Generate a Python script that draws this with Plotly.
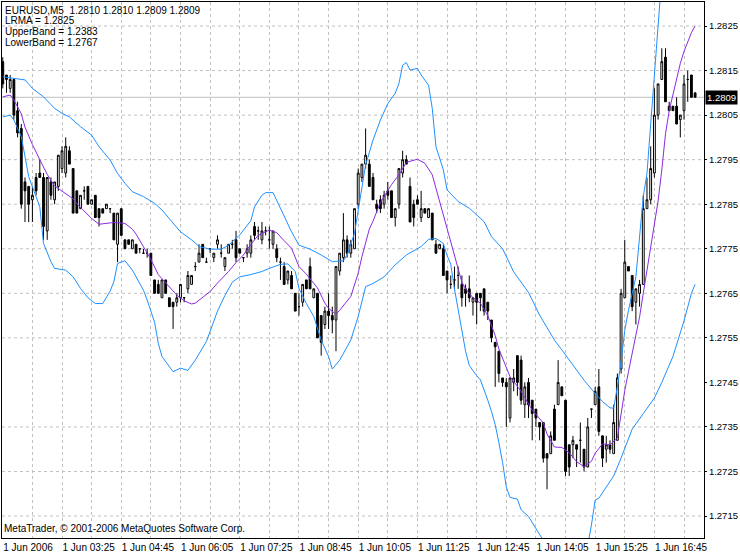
import pandas as pd
import plotly.graph_objects as go

# ---------------- text ----------------
header_lines = [
    "EURUSD,M5  1.2810 1.2810 1.2809 1.2809",
    "LRMA = 1.2825",
    "UpperBand = 1.2383",
    "LowerBand = 1.2767",
]
copyright_text = "MetaTrader, © 2001-2006 MetaQuotes Software Corp."
last_price = 1.2809
last_price_text = "1.2809"

# ---------------- time axis ----------------
start_time = "2006-06-01 02:05"
bar_minutes = 5

# ---------------- candles (M5) ----------------
opens = [
    1.2817, 1.2814, 1.2811, 1.2813, 1.2806, 1.2802, 1.2790, 1.2789, 1.2786, 1.2791,
    1.2792, 1.2791, 1.2779, 1.2790, 1.2786, 1.2789, 1.2793, 1.2792, 1.2797, 1.2793,
    1.2788, 1.2784, 1.2788, 1.2789, 1.2785, 1.2787, 1.2784, 1.2784, 1.2784, 1.2784,
    1.2783, 1.2776, 1.2784, 1.2777, 1.2777, 1.2775, 1.2776, 1.2775, 1.2774, 1.2774,
    1.2774, 1.2768, 1.2767, 1.2764, 1.2768, 1.2764, 1.2763, 1.2763, 1.2764, 1.2764,
    1.2766, 1.2767, 1.2771, 1.2772, 1.2776, 1.2772, 1.2775, 1.2773, 1.2776, 1.2774,
    1.2771, 1.2774, 1.2776, 1.2777, 1.2775, 1.2773, 1.2774, 1.2774, 1.2780, 1.2779,
    1.2777, 1.2779, 1.2777, 1.2776, 1.2775, 1.2772, 1.2771, 1.2768, 1.2769, 1.2765,
    1.2762, 1.2763, 1.2768, 1.2771, 1.2764, 1.2765, 1.2760, 1.2758, 1.2761, 1.2760,
    1.2759, 1.2770, 1.2773, 1.2777, 1.2774, 1.2775, 1.2785, 1.2791, 1.2794, 1.2794,
    1.2791, 1.2785, 1.2786, 1.2785, 1.2788, 1.2788, 1.2782, 1.2785, 1.2792, 1.2795,
    1.2789, 1.2785, 1.2786, 1.2782, 1.2784, 1.2782, 1.2783, 1.2776, 1.2775, 1.2775,
    1.2770, 1.2767, 1.2768, 1.2769, 1.2767, 1.2766, 1.2766, 1.2763, 1.2765, 1.2765,
    1.2766, 1.2763, 1.2759, 1.2754, 1.2752, 1.2746, 1.2745, 1.2737, 1.2745, 1.2751,
    1.2750, 1.2740, 1.2745, 1.2741, 1.2739, 1.2736, 1.2736, 1.2729, 1.2729, 1.2739,
    1.2740, 1.2744, 1.2741, 1.2731, 1.2731, 1.2731, 1.2732, 1.2730, 1.2726, 1.2739,
    1.2740, 1.2744, 1.2733, 1.2730, 1.2731, 1.2729, 1.2732, 1.2748, 1.2764, 1.2771,
    1.2769, 1.2763, 1.2765, 1.2767, 1.2784, 1.2786, 1.2792, 1.2805, 1.2813, 1.2818,
    1.2807, 1.2807, 1.2807, 1.2804, 1.2806, 1.2813, 1.2814, 1.2810,
]
highs = [
    1.2818, 1.2814, 1.2814, 1.2813, 1.2808, 1.2803, 1.2791, 1.2789, 1.2789, 1.2792,
    1.2795, 1.2792, 1.2791, 1.2791, 1.2790, 1.2796, 1.2798, 1.2800, 1.2798, 1.2793,
    1.2788, 1.2787, 1.2789, 1.2789, 1.2786, 1.2787, 1.2784, 1.2784, 1.2785, 1.2784,
    1.2783, 1.2783, 1.2784, 1.2777, 1.2777, 1.2777, 1.2776, 1.2775, 1.2775, 1.2775,
    1.2774, 1.2768, 1.2768, 1.2768, 1.2768, 1.2764, 1.2763, 1.2765, 1.2767, 1.2764,
    1.2770, 1.2769, 1.2772, 1.2776, 1.2776, 1.2773, 1.2775, 1.2774, 1.2778, 1.2776,
    1.2773, 1.2776, 1.2777, 1.2779, 1.2775, 1.2773, 1.2776, 1.2778, 1.2781, 1.2780,
    1.2781, 1.2780, 1.2780, 1.2779, 1.2776, 1.2773, 1.2772, 1.2770, 1.2770, 1.2765,
    1.2765, 1.2767, 1.2768, 1.2773, 1.2766, 1.2765, 1.2760, 1.2762, 1.2765, 1.2762,
    1.2771, 1.2774, 1.2783, 1.2778, 1.2777, 1.2784, 1.2793, 1.2794, 1.2802, 1.2795,
    1.2792, 1.2786, 1.2787, 1.2788, 1.2790, 1.2788, 1.2784, 1.2793, 1.2797, 1.2796,
    1.2791, 1.2786, 1.2787, 1.2788, 1.2784, 1.2784, 1.2783, 1.2777, 1.2776, 1.2776,
    1.2770, 1.2769, 1.2771, 1.2771, 1.2769, 1.2767, 1.2769, 1.2764, 1.2765, 1.2765,
    1.2766, 1.2763, 1.2759, 1.2754, 1.2752, 1.2746, 1.2746, 1.2746, 1.2748, 1.2751,
    1.2751, 1.2745, 1.2746, 1.2741, 1.2739, 1.2736, 1.2736, 1.2729, 1.2734, 1.2740,
    1.2750, 1.2744, 1.2741, 1.2731, 1.2733, 1.2731, 1.2736, 1.2730, 1.2737, 1.2739,
    1.2744, 1.2748, 1.2733, 1.2733, 1.2732, 1.2740, 1.2747, 1.2766, 1.2777, 1.2771,
    1.2769, 1.2766, 1.2768, 1.2787, 1.2791, 1.2798, 1.2811, 1.2812, 1.2820, 1.2820,
    1.2808, 1.2807, 1.2809, 1.2805, 1.2814, 1.2815, 1.2814, 1.2810,
]
lows = [
    1.2811, 1.2810, 1.2810, 1.2804, 1.2800, 1.2784, 1.2781, 1.2781, 1.2781, 1.2787,
    1.2791, 1.2777, 1.2777, 1.2786, 1.2785, 1.2788, 1.2792, 1.2791, 1.2794, 1.2783,
    1.2783, 1.2784, 1.2786, 1.2785, 1.2785, 1.2782, 1.2780, 1.2783, 1.2784, 1.2783,
    1.2777, 1.2772, 1.2778, 1.2775, 1.2776, 1.2775, 1.2774, 1.2774, 1.2774, 1.2773,
    1.2769, 1.2765, 1.2765, 1.2764, 1.2765, 1.2762, 1.2757, 1.2762, 1.2763, 1.2763,
    1.2765, 1.2767, 1.2770, 1.2772, 1.2773, 1.2772, 1.2774, 1.2772, 1.2775, 1.2773,
    1.2770, 1.2774, 1.2775, 1.2772, 1.2774, 1.2772, 1.2773, 1.2773, 1.2777, 1.2777,
    1.2776, 1.2778, 1.2775, 1.2775, 1.2772, 1.2768, 1.2767, 1.2767, 1.2766, 1.2761,
    1.2760, 1.2762, 1.2766, 1.2766, 1.2764, 1.2755, 1.2751, 1.2757, 1.2757, 1.2756,
    1.2752, 1.2769, 1.2772, 1.2773, 1.2773, 1.2775, 1.2784, 1.2790, 1.2793, 1.2789,
    1.2786, 1.2783, 1.2783, 1.2784, 1.2786, 1.2782, 1.2780, 1.2784, 1.2791, 1.2794,
    1.2781, 1.2780, 1.2785, 1.2781, 1.2783, 1.2782, 1.2777, 1.2774, 1.2775, 1.2769,
    1.2765, 1.2766, 1.2766, 1.2766, 1.2762, 1.2762, 1.2763, 1.2760, 1.2758, 1.2761,
    1.2760, 1.2759, 1.2754, 1.2744, 1.2745, 1.2744, 1.2735, 1.2736, 1.2743, 1.2742,
    1.2740, 1.2737, 1.2737, 1.2732, 1.2735, 1.2732, 1.2727, 1.2721, 1.2729, 1.2732,
    1.2740, 1.2742, 1.2724, 1.2724, 1.2728, 1.2726, 1.2727, 1.2725, 1.2726, 1.2737,
    1.2740, 1.2733, 1.2726, 1.2727, 1.2729, 1.2729, 1.2732, 1.2747, 1.2764, 1.2770,
    1.2761, 1.2758, 1.2762, 1.2767, 1.2784, 1.2785, 1.2791, 1.2804, 1.2813, 1.2808,
    1.2806, 1.2806, 1.2803, 1.2800, 1.2804, 1.2808, 1.2809, 1.2809,
]
closes = [
    1.2812, 1.2813, 1.2813, 1.2805, 1.2801, 1.2785, 1.2788, 1.2785, 1.2787, 1.2788,
    1.2791, 1.2780, 1.2791, 1.2787, 1.2790, 1.2796, 1.2797, 1.2798, 1.2794, 1.2783,
    1.2783, 1.2787, 1.2788, 1.2785, 1.2786, 1.2782, 1.2782, 1.2783, 1.2785, 1.2784,
    1.2777, 1.2783, 1.2778, 1.2775, 1.2776, 1.2777, 1.2774, 1.2775, 1.2774, 1.2774,
    1.2769, 1.2765, 1.2765, 1.2768, 1.2765, 1.2762, 1.2762, 1.2764, 1.2767, 1.2764,
    1.2769, 1.2769, 1.2771, 1.2774, 1.2773, 1.2772, 1.2775, 1.2774, 1.2777, 1.2774,
    1.2773, 1.2776, 1.2776, 1.2773, 1.2774, 1.2773, 1.2775, 1.2777, 1.2778, 1.2779,
    1.2779, 1.2779, 1.2777, 1.2779, 1.2773, 1.2772, 1.2767, 1.2770, 1.2766, 1.2761,
    1.2762, 1.2767, 1.2766, 1.2766, 1.2766, 1.2755, 1.2754, 1.2761, 1.2760, 1.2759,
    1.2771, 1.2774, 1.2777, 1.2774, 1.2776, 1.2784, 1.2792, 1.2794, 1.2796, 1.2789,
    1.2786, 1.2784, 1.2784, 1.2787, 1.2787, 1.2782, 1.2784, 1.2793, 1.2795, 1.2794,
    1.2781, 1.2782, 1.2785, 1.2784, 1.2783, 1.2784, 1.2777, 1.2774, 1.2776, 1.2769,
    1.2768, 1.2767, 1.2768, 1.2769, 1.2764, 1.2765, 1.2764, 1.2764, 1.2763, 1.2764,
    1.2761, 1.2761, 1.2755, 1.2753, 1.2747, 1.2745, 1.2744, 1.2746, 1.2746, 1.2745,
    1.2741, 1.2744, 1.2740, 1.2738, 1.2737, 1.2735, 1.2728, 1.2728, 1.2733, 1.2732,
    1.2745, 1.2742, 1.2725, 1.2726, 1.2732, 1.2730, 1.2732, 1.2726, 1.2735, 1.2739,
    1.2743, 1.2734, 1.2728, 1.2731, 1.2730, 1.2736, 1.2746, 1.2765, 1.2772, 1.2770,
    1.2762, 1.2766, 1.2767, 1.2784, 1.2786, 1.2793, 1.2805, 1.2812, 1.2817, 1.2808,
    1.2806, 1.2806, 1.2803, 1.2805, 1.2812, 1.2813, 1.2809, 1.2809,
]

# ---------------- indicator lines (bar index -> value) ----------------
lrma_bars = [0, 2, 3, 5, 6, 8, 10, 12, 14, 16, 17, 19, 20, 22, 24, 26, 28, 30, 33, 35,
             36, 38, 40, 42, 43, 45, 47, 49, 51, 52, 54, 56, 58, 60, 61, 63, 65, 67, 69, 72,
             74, 76, 78, 80, 82, 85, 87, 88, 90, 91, 94, 96, 97, 99, 100, 102, 105, 107, 109, 112,
             114, 116, 118, 120, 122, 124, 125, 127, 129, 131, 133, 134, 137, 140, 143, 146, 147, 149,
             151, 153, 155, 157, 159, 160, 162, 164, 166, 167, 168, 169, 170, 171, 172, 173, 174, 175, 176, 177,
             178, 179, 180, 181, 182, 183, 184, 185, 186, 187]
lrma_vals = [1.28091, 1.28095, 1.28084, 1.28053, 1.28023, 1.27984, 1.27950, 1.27917, 1.27891, 1.27879,
             1.27875, 1.27862, 1.27851, 1.27835, 1.27818, 1.27805, 1.27807, 1.27809, 1.27807, 1.27794,
             1.27783, 1.27755, 1.27726, 1.27692, 1.27683, 1.27663, 1.27646, 1.27633, 1.27626, 1.27628,
             1.27641, 1.27654, 1.27673, 1.27690, 1.27699, 1.27719, 1.27736, 1.27760, 1.27780, 1.27792,
             1.27786, 1.27768, 1.27751, 1.27710, 1.27693, 1.27662, 1.27628, 1.27616, 1.27603, 1.27612,
             1.27643, 1.27695, 1.27732, 1.27794, 1.27812, 1.27854, 1.27894, 1.27916, 1.27944, 1.27951,
             1.27942, 1.27916, 1.27856, 1.27797, 1.27739, 1.27675, 1.27660, 1.27640, 1.27628, 1.27600,
             1.27555, 1.27525, 1.27463, 1.27430, 1.27388, 1.27359, 1.27334, 1.27305,
             1.27304, 1.27292, 1.27272, 1.27261, 1.27273, 1.27291, 1.27312, 1.27310, 1.27325, 1.27382,
             1.27432, 1.27474, 1.27517, 1.27556, 1.27597, 1.27650, 1.27703, 1.27755, 1.27807, 1.27857,
             1.27927, 1.28008, 1.28060, 1.28095, 1.28133, 1.28166, 1.28193, 1.28216, 1.28235, 1.28250]

upper_bars = [0, 3, 6, 8, 11, 14, 16, 18, 21, 24, 26, 29, 31, 33, 35, 38, 41, 43, 46, 48,
              51, 53, 56, 59, 61, 64, 67, 68, 70, 71, 73, 74, 76, 78, 80, 83, 86, 89, 92, 93,
              95, 96, 97, 98, 100, 102, 104, 106, 107, 108, 109, 110, 112, 113, 115, 116, 117, 119, 120, 123,
              126, 130, 132, 135, 138, 141, 142, 145, 149, 151, 154, 157, 160, 162, 164, 165, 166, 167, 168, 169,
              171, 172, 173, 174, 175, 176, 177, 178, 180, 182, 184, 187]
upper_vals = [1.28136, 1.28132, 1.28129, 1.28110, 1.28091, 1.28065, 1.28054, 1.28046, 1.28024, 1.28005,
              1.27979, 1.27949, 1.27919, 1.27897, 1.27878, 1.27867, 1.27852, 1.27837, 1.27807, 1.27788,
              1.27770, 1.27755, 1.27749, 1.27749, 1.27758, 1.27781, 1.27813, 1.27844, 1.27870, 1.27876,
              1.27876, 1.27859, 1.27822, 1.27788, 1.27758, 1.27749, 1.27736, 1.27721, 1.27723, 1.27736,
              1.27785, 1.27835, 1.27885, 1.27938, 1.27994, 1.28039, 1.28076, 1.28099, 1.28121, 1.28162,
              1.28168, 1.28151, 1.28155, 1.28140, 1.28117, 1.28065, 1.27979, 1.27927, 1.27882, 1.27856,
              1.27841, 1.27811, 1.27777, 1.27750, 1.27698, 1.27663, 1.27652, 1.27601, 1.27545, 1.27523,
              1.27489, 1.27455, 1.27425, 1.27407, 1.27393, 1.27392, 1.27440, 1.27496, 1.27567, 1.27612,
              1.27687, 1.27769, 1.27867, 1.27919, 1.28031, 1.28151, 1.28250, 1.28360, 1.28500, 1.28620,
              1.28720, 1.28830]

lower_bars = [0, 2, 3, 5, 7, 10, 11, 13, 14, 17, 19, 21, 23, 25, 27, 29, 30, 31, 33, 35,
              38, 39, 41, 42, 43, 46, 48, 50, 52, 55, 58, 60, 62, 64, 67, 70, 72, 75, 77, 79,
              80, 82, 84, 86, 88, 89, 91, 94, 96, 97, 98, 100, 103, 106, 109, 113, 115, 117, 119, 120,
              121, 122, 123, 124, 125, 126, 127, 128, 129, 130, 131, 132, 133, 134, 135, 136, 137, 139,
              140, 142, 144, 146, 148, 150, 152, 154, 156, 158, 159, 160, 161, 163, 165, 167, 169, 170,
              173, 176, 178, 181, 184, 186, 187]
lower_vals = [1.28046, 1.28050, 1.28039, 1.28002, 1.27912, 1.27844, 1.27762, 1.27721, 1.27706, 1.27702,
              1.27687, 1.27661, 1.27640, 1.27627, 1.27627, 1.27655, 1.27676, 1.27717, 1.27723, 1.27702,
              1.27657, 1.27635, 1.27585, 1.27538, 1.27508, 1.27474, 1.27482, 1.27477, 1.27500, 1.27542,
              1.27610, 1.27645, 1.27675, 1.27687, 1.27692, 1.27699, 1.27706, 1.27715, 1.27716, 1.27699,
              1.27661, 1.27627, 1.27598, 1.27545, 1.27508, 1.27480, 1.27500, 1.27545, 1.27598, 1.27635,
              1.27665, 1.27672, 1.27687, 1.27714, 1.27736, 1.27755, 1.27771, 1.27773, 1.27762, 1.27735,
              1.27715, 1.27660, 1.27610, 1.27568, 1.27520, 1.27488, 1.27475, 1.27465, 1.27456, 1.27435,
              1.27410, 1.27385, 1.27355, 1.27315, 1.27270, 1.27215, 1.27192, 1.27188,
              1.27164, 1.27149, 1.27123, 1.27095, 1.27060, 1.27030, 1.27015, 1.27020, 1.27045,
              1.27085, 1.27130, 1.27186, 1.27190, 1.27215, 1.27240, 1.27280, 1.27325, 1.27345,
              1.27380, 1.27415, 1.27450, 1.27508, 1.27588, 1.27650, 1.27670]

# ---------------- axes ----------------
y_tick_vals = [1.2715, 1.2725, 1.2735, 1.2745, 1.2755, 1.2765, 1.2775, 1.2785, 1.2795, 1.2805, 1.2815, 1.2825]
y_grid_vals = [1.2715, 1.2725, 1.2735, 1.2755, 1.2765, 1.2775, 1.2785, 1.2795, 1.2805, 1.2815, 1.2825]
y_range = [1.271007, 1.283039]
x_grid_step_bars = 8
x_label_bars = [0, 16, 32, 48, 64, 80, 96, 112, 128, 144, 160, 176]
x_label_text = ["1 Jun 2006", "1 Jun 03:25", "1 Jun 04:45", "1 Jun 06:05", "1 Jun 07:25", "1 Jun 08:45",
                "1 Jun 10:05", "1 Jun 11:25", "1 Jun 12:45", "1 Jun 14:05", "1 Jun 15:25", "1 Jun 16:45"]
x_range_bars = [-0.21, 189.4]

t0 = pd.Timestamp(start_time)


def bar_time(k):
    return t0 + pd.Timedelta(minutes=bar_minutes * k)


times = [bar_time(k) for k in range(len(opens))]

FONT = "Liberation Sans, Arial, sans-serif"
FS = 10
GRID = "#C0C0C0"
BAND = "#1E90FF"
LRMA_COLOR = "#8A2BE2"

fig = go.Figure()
fig.add_trace(go.Candlestick(
    x=times, open=opens, high=highs, low=lows, close=closes,
    increasing=dict(line=dict(color="black", width=1), fillcolor="white"),
    decreasing=dict(line=dict(color="black", width=1), fillcolor="black"),
    whiskerwidth=0, showlegend=False, hoverinfo="skip",
))
fig.add_trace(go.Scatter(x=[bar_time(k) for k in upper_bars], y=upper_vals, mode="lines",
                         line=dict(color=BAND, width=1), showlegend=False, hoverinfo="skip"))
fig.add_trace(go.Scatter(x=[bar_time(k) for k in lower_bars], y=lower_vals, mode="lines",
                         line=dict(color=BAND, width=1), showlegend=False, hoverinfo="skip"))
fig.add_trace(go.Scatter(x=[bar_time(k) for k in lrma_bars], y=lrma_vals, mode="lines",
                         line=dict(color=LRMA_COLOR, width=1), showlegend=False, hoverinfo="skip"))

grid_bars = list(range(0, len(opens), x_grid_step_bars))
label_map = dict(zip(x_label_bars, x_label_text))
tickvals = [bar_time(k) for k in grid_bars]
ticktext = [label_map.get(k, "") for k in grid_bars]

shapes = []
for v in y_grid_vals:
    shapes.append(dict(type="line", xref="paper", x0=0, x1=1, yref="y", y0=v, y1=v,
                       line=dict(color=GRID, width=1, dash="3px,3px"), layer="below"))
shapes.append(dict(type="line", xref="paper", x0=0, x1=1, yref="y", y0=last_price, y1=last_price,
                   line=dict(color=GRID, width=1), layer="below"))

annotations = []
header_y = [10.5, 21, 31.5, 42]
plot_top, plot_bottom = 2, 538
for txt, yy in zip(header_lines, header_y):
    annotations.append(dict(text=txt, xref="paper", yref="paper", x=0, xshift=2,
                            y=(plot_bottom - yy) / (plot_bottom - plot_top), xanchor="left", yanchor="middle",
                            showarrow=False, borderpad=0, font=dict(family=FONT, size=FS, color="black")))
annotations.append(dict(text=copyright_text, xref="paper", yref="paper", x=0, xshift=1,
                        y=(plot_bottom - 528.5) / (plot_bottom - plot_top), xanchor="left", yanchor="middle",
                        showarrow=False, borderpad=0, font=dict(family=FONT, size=FS, color="black")))
annotations.append(dict(text=last_price_text, xref="paper", yref="y", x=1, xshift=1, y=last_price,
                        xanchor="left", yanchor="middle", showarrow=False, bgcolor="black", borderpad=1,
                        font=dict(family=FONT, size=9.5, color="white")))

fig.update_layout(
    width=740, height=555,
    margin=dict(l=2, r=36, t=2, b=17, autoexpand=False),
    paper_bgcolor="white", plot_bgcolor="white",
    showlegend=False, boxgap=0.3,
    font=dict(family=FONT, size=FS, color="black"),
    shapes=shapes, annotations=annotations,
    xaxis=dict(type="date", range=[bar_time(x_range_bars[0]), bar_time(x_range_bars[1])],
               tickmode="array", tickvals=tickvals, ticktext=ticktext, tickangle=0,
               showgrid=True, gridcolor=GRID, gridwidth=1, griddash="3px,3px",
               ticks="", ticklabelposition="outside right", automargin=False,
               showline=True, mirror=True, linecolor="black", linewidth=1,
               zeroline=False, rangeslider=dict(visible=False),
               tickfont=dict(family=FONT, size=FS, color="black")),
    yaxis=dict(side="right", range=y_range, tickmode="array", tickvals=y_tick_vals,
               ticktext=[f"{v:.4f}" for v in y_tick_vals], automargin=False,
               showgrid=False, ticks="outside", ticklen=2, tickcolor="black",
               showline=True, mirror=True, linecolor="black", linewidth=1, zeroline=False,
               tickfont=dict(family=FONT, size=9.5, color="black")),
)

fig.write_html("out.html", config={"displayModeBar": False, "staticPlot": True},
               post_script="document.body.style.margin='0px';document.body.style.overflow='hidden';")
